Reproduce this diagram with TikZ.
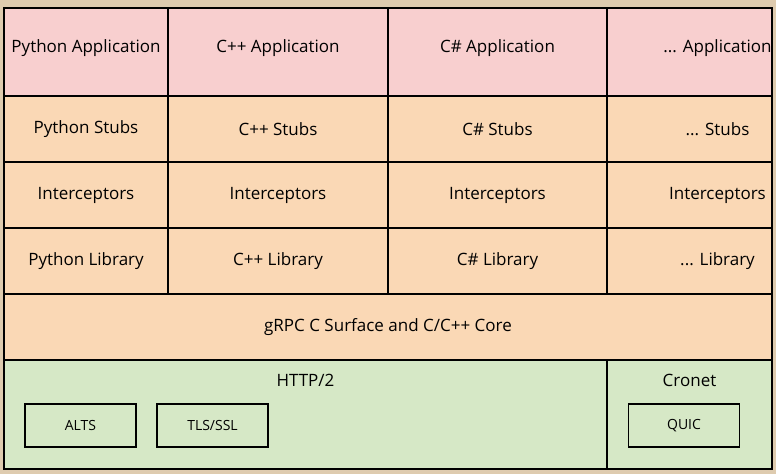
\documentclass[tikz,border=0pt]{standalone}
\usepackage{fontspec}
\setmainfont{Open Sans}
\definecolor{appPink}{HTML}{F8CFCF}
\definecolor{layerPeach}{HTML}{FAD8B5}
\definecolor{wireGreen}{HTML}{D6E8C6}
\definecolor{frameBeige}{HTML}{DECBAF}
\begin{document}
\begin{tikzpicture}[x=1pt,y=-1pt,line width=1.1pt,
  cell/.style 2 args={draw,inner sep=0pt,minimum width=#1pt,minimum height=#2pt,
    font=\fontsize{17}{20}\selectfont},
  small/.style={draw,inner sep=0pt,minimum width=111pt,minimum height=43pt,
    font=\fontsize{14}{17}\selectfont},
  txt/.style={inner sep=0pt,font=\fontsize{17}{20}\selectfont}]

%Background
\fill[frameBeige] (0,0) rectangle (776,474);
\useasboundingbox (0,0) rectangle (776,474);

%Application Row
\node[cell={164}{88},fill=appPink] (pyApp) at (86,52) {};
\node[txt] at ([yshift=4pt]pyApp.center) {Python Application};
\node[cell={220}{88},fill=appPink] (cppApp) at (278,52) {};
\node[txt] at ([yshift=4pt]cppApp.center) {C++ Application};
\node[cell={219}{88},fill=appPink] (csApp) at (497.5,52) {};
\node[txt] at ([yshift=4pt]csApp.center) {C\# Application};
\node[cell={165}{88},fill=appPink] (anyApp) at (689.5,52) {};
\node[txt] at ([xshift=28pt,yshift=4pt]anyApp.center) {... Application};

%Stubs Row
\node[cell={164}{66},fill=layerPeach] (pyStub) at (86,129) {Python Stubs};
\node[cell={220}{66},fill=layerPeach] (cppStub) at (278,129) {C++ Stubs};
\node[cell={219}{66},fill=layerPeach] (csStub) at (497.5,129) {C\# Stubs};
\node[cell={165}{66},fill=layerPeach] (anyStub) at (689.5,129) {};
\node[txt] at ([xshift=28pt]anyStub.center) {... Stubs};

%Interceptors Row
\node[cell={164}{66},fill=layerPeach] (pyInt) at (86,195) {Interceptors};
\node[cell={220}{66},fill=layerPeach] (cppInt) at (278,195) {Interceptors};
\node[cell={219}{66},fill=layerPeach] (csInt) at (497.5,195) {Interceptors};
\node[cell={165}{66},fill=layerPeach] (anyInt) at (689.5,195) {};
\node[txt] at ([xshift=28pt]anyInt.center) {Interceptors};

%Library Row
\node[cell={164}{66},fill=layerPeach] (pyLib) at (86,261) {Python Library};
\node[cell={220}{66},fill=layerPeach] (cppLib) at (278,261) {C++ Library};
\node[cell={219}{66},fill=layerPeach] (csLib) at (497.5,261) {C\# Library};
\node[cell={165}{66},fill=layerPeach] (anyLib) at (689.5,261) {};
\node[txt] at ([xshift=28pt]anyLib.center) {... Library};

%Core Row
\node[cell={768}{66},fill=layerPeach] (core) at (388,327) {gRPC C Surface and C/C++ Core};

%Transport Row
\node[cell={603}{109},fill=wireGreen] (http) at (305.5,414.5) {};
\node[cell={165}{109},fill=wireGreen] (cronet) at (689.5,414.5) {};
\node[txt] (httpName) at ([yshift=-21pt]http.north) {HTTP/2};
\node[txt] (cronetName) at ([yshift=-21pt]cronet.north) {Cronet};
\node[small] (alts) at (80.5,425.5) {ALTS};
\node[small] (tls) at (212.5,425.5) {TLS/SSL};
\node[small] (quic) at (684,425.5) {QUIC};

\end{tikzpicture}
\end{document}
